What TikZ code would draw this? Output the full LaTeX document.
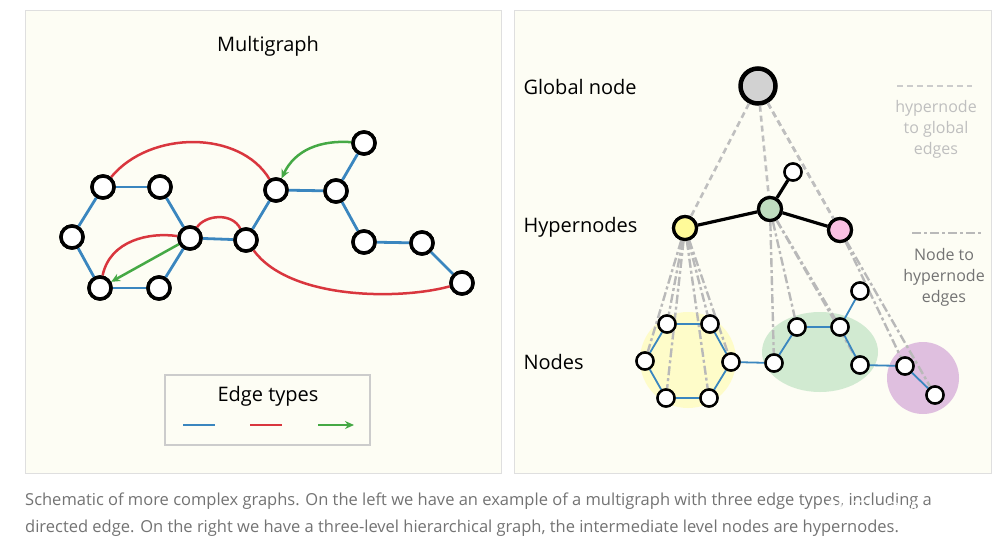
\documentclass[tikz,border=0pt]{standalone}
\usepackage{fontspec}
\setmainfont{Open Sans}
\newfontfamily\cjk{Noto Sans CJK SC}
\usetikzlibrary{positioning,arrows.meta}
\definecolor{paper}{HTML}{FDFDF4}
\definecolor{eblue}{HTML}{3A86BF}
\definecolor{ered}{HTML}{D9363E}
\definecolor{egreen}{HTML}{45A945}
\begin{document}
\begin{tikzpicture}[x=1pt,y=-1pt,
    vtx/.style={circle, draw=black, line width=3.5pt, fill=white, minimum size=22pt, inner sep=0pt},
    sv/.style={circle, draw=black, line width=2.4pt, fill=white, minimum size=17pt, inner sep=0pt},
    hyp/.style={circle, draw=black, line width=3.2pt, minimum size=23pt, inner sep=0pt},
    blue/.style={draw=eblue, line width=2.8pt},
    sblue/.style={draw=eblue, line width=1.8pt},
    red/.style={draw=ered, line width=2.5pt},
    green/.style={draw=egreen, line width=2.5pt, -{Stealth[length=9pt,width=8pt]}},
    glob/.style={draw=gray!50, line width=2.6pt, dash pattern=on 6pt off 4pt},
    loc/.style={draw=gray!55, line width=2.4pt, dash pattern=on 9pt off 3pt on 3pt off 3pt},
    lbl/.style={font=\fontsize{20}{24}\selectfont, anchor=west},
    panel/.style={draw=gray!25, fill=paper, line width=0.8pt}
]
\useasboundingbox (0,0) rectangle (1003,549);
\fill[white] (0,0) rectangle (1003,549);
\draw[panel] (25,10) rectangle (501,473);
\draw[panel] (514,10) rectangle (991,473);

% Left panel: multigraph
\node[font=\fontsize{20}{24}\selectfont] (title) at (268,46) {Multigraph};
\node[vtx] (a1) at (103,187) {};
\node[vtx] (a2) at (160,187) {};
\node[vtx] (a3) at (72,237) {};
\node[vtx] (a4) at (190,238) {};
\node[vtx] (a5) at (100,288) {};
\node[vtx] (a6) at (159,288) {};
\node[vtx] (b1) at (246,240) {};
\node[vtx] (b2) at (276,190) {};
\node[vtx] (b3) at (336,191) {};
\node[vtx] (b4) at (364,143) {};
\node[vtx] (b5) at (364,242) {};
\node[vtx] (b6) at (422,243) {};
\node[vtx] (b7) at (462,283) {};
\foreach \u/\v in {a1/a2,a1/a3,a2/a4,a3/a5,a5/a6,a6/a4,a4/b1,b1/b2,b2/b3,b3/b4,b3/b5,b5/b6,b6/b7}
  \draw[blue] (\u) -- (\v);
\draw[red] (a1) .. controls (150,130) and (240,130) .. (b2);
\draw[red] (a5) .. controls (110,240) and (150,232) .. (a4);
\draw[red] (a4) .. controls (205,215) and (232,212) .. (b1);
\draw[red] (b1) .. controls (290,300) and (400,300) .. (b7);
\draw[green] (b4) .. controls (320,140) and (295,150) .. (b2);
\draw[green] (a4) -- (a5);
% redraw vertices on top
\foreach \n in {a1,a2,a3,a4,a5,a6,b1,b2,b3,b4,b5,b6,b7}
  \node[vtx] at (\n) {};

% Legend
\draw[draw=gray!40, line width=1.2pt] (165,375) rectangle (370,445);
\node[font=\fontsize{20}{24}\selectfont] (legend) at (268,396) {Edge types};
\coordinate (k1) at (183,425); \coordinate (k2) at (215,425);
\coordinate (k3) at (250,425); \coordinate (k4) at (282,425);
\coordinate (k5) at (318,425); \coordinate (k6) at (354,425);
\draw[blue] (k1) -- (k2);
\draw[red] (k3) -- (k4);
\draw[green] (k5) -- (k6);

% Right panel: hierarchical graph
\fill[yellow!25, opacity=0.8] (688,360) circle (48);
\fill[green!55!black!18] (820,352) ellipse (58 and 40);
\fill[violet!25] (923,378) circle (36);

\node[lbl] (lg) at (520,87) {Global node};
\node[lbl] (lh) at (520,227) {Hypernodes};
\node[lbl] (ln) at (520,362) {Nodes};

\node[circle, draw=black, line width=4.5pt, fill=gray!35, minimum size=35pt, inner sep=0pt] (g) at (758,86) {};
\node[hyp, fill=yellow!40] (hy) at (685,228) {};
\node[hyp, fill=green!45!black!25] (hg) at (770,209) {};
\node[hyp, fill=magenta!25] (hp) at (840,230) {};
\node[sv] (hs) at (793,172) {};

\node[sv] (h1) at (667,324) {};
\node[sv] (h2) at (710,324) {};
\node[sv] (h3) at (645,361) {};
\node[sv] (h4) at (731,362) {};
\node[sv] (h5) at (666,398) {};
\node[sv] (h6) at (709,398) {};
\node[sv] (c1) at (774,363) {};
\node[sv] (c2) at (797,327) {};
\node[sv] (c3) at (840,327) {};
\node[sv] (c4) at (860,291) {};
\node[sv] (c5) at (860,365) {};
\node[sv] (c6) at (905,366) {};
\node[sv] (c7) at (935,395) {};

\foreach \t in {hy,hg,hp}
  \draw[glob] (g) -- (\t);
\draw[glob] (g.-60) -- (hp.120);
\foreach \t in {h1,h2,h3,h4,h5,h6}
  \draw[loc] (hy) -- (\t);
\foreach \t in {c1,c2,c3,c5}
  \draw[loc] (hg) -- (\t);
\foreach \t in {c6,c7}
  \draw[loc] (hp) -- (\t);
\foreach \u/\v in {h1/h2,h1/h3,h2/h4,h3/h5,h5/h6,h6/h4,h4/c1,c1/c2,c2/c3,c3/c4,c3/c5,c5/c6,c6/c7}
  \draw[sblue] (\u) -- (\v);
\foreach \u/\v in {hy/hg,hg/hp,hg/hs}
  \draw[draw=black, line width=3.2pt] (\u) -- (\v);
\foreach \n in {h1,h2,h3,h4,h5,h6,c1,c2,c3,c4,c5,c6,c7,hs}
  \node[sv] at (\n) {};
\node[hyp, fill=yellow!40] at (hy) {};
\node[hyp, fill=green!45!black!25] at (hg) {};
\node[hyp, fill=magenta!25] at (hp) {};

% Right legend
\coordinate (l1) at (897,86); \coordinate (l2) at (972,86);
\draw[glob, draw=gray!40] (l1) -- (l2);
\node[font=\fontsize{16}{21}\selectfont, text=gray!50, align=center] (lt1) at (936,129) {hypernode\\to global\\edges};
\coordinate (l3) at (912,233); \coordinate (l4) at (982,233);
\draw[loc] (l3) -- (l4);
\node[font=\fontsize{16}{21}\selectfont, text=gray!90!black, align=center] (lt2) at (944,277) {Node to\\hypernode\\edges};

% Caption
\node[anchor=north west, font=\fontsize{16.5}{27}\selectfont, text=gray!90!black, align=left, inner sep=0pt] (cap) at (25,493)
  {Schematic of more complex graphs. On the left we have an example of a multigraph with three edge types, including a\\
   directed edge. On the right we have a three-level hierarchical graph, the intermediate level nodes are hypernodes.};
\node[font=\cjk\fontsize{24}{28}\selectfont, text=white, opacity=0.85] (wm) at (895,511) {知乎 @Wiles};
\end{tikzpicture}
\end{document}
